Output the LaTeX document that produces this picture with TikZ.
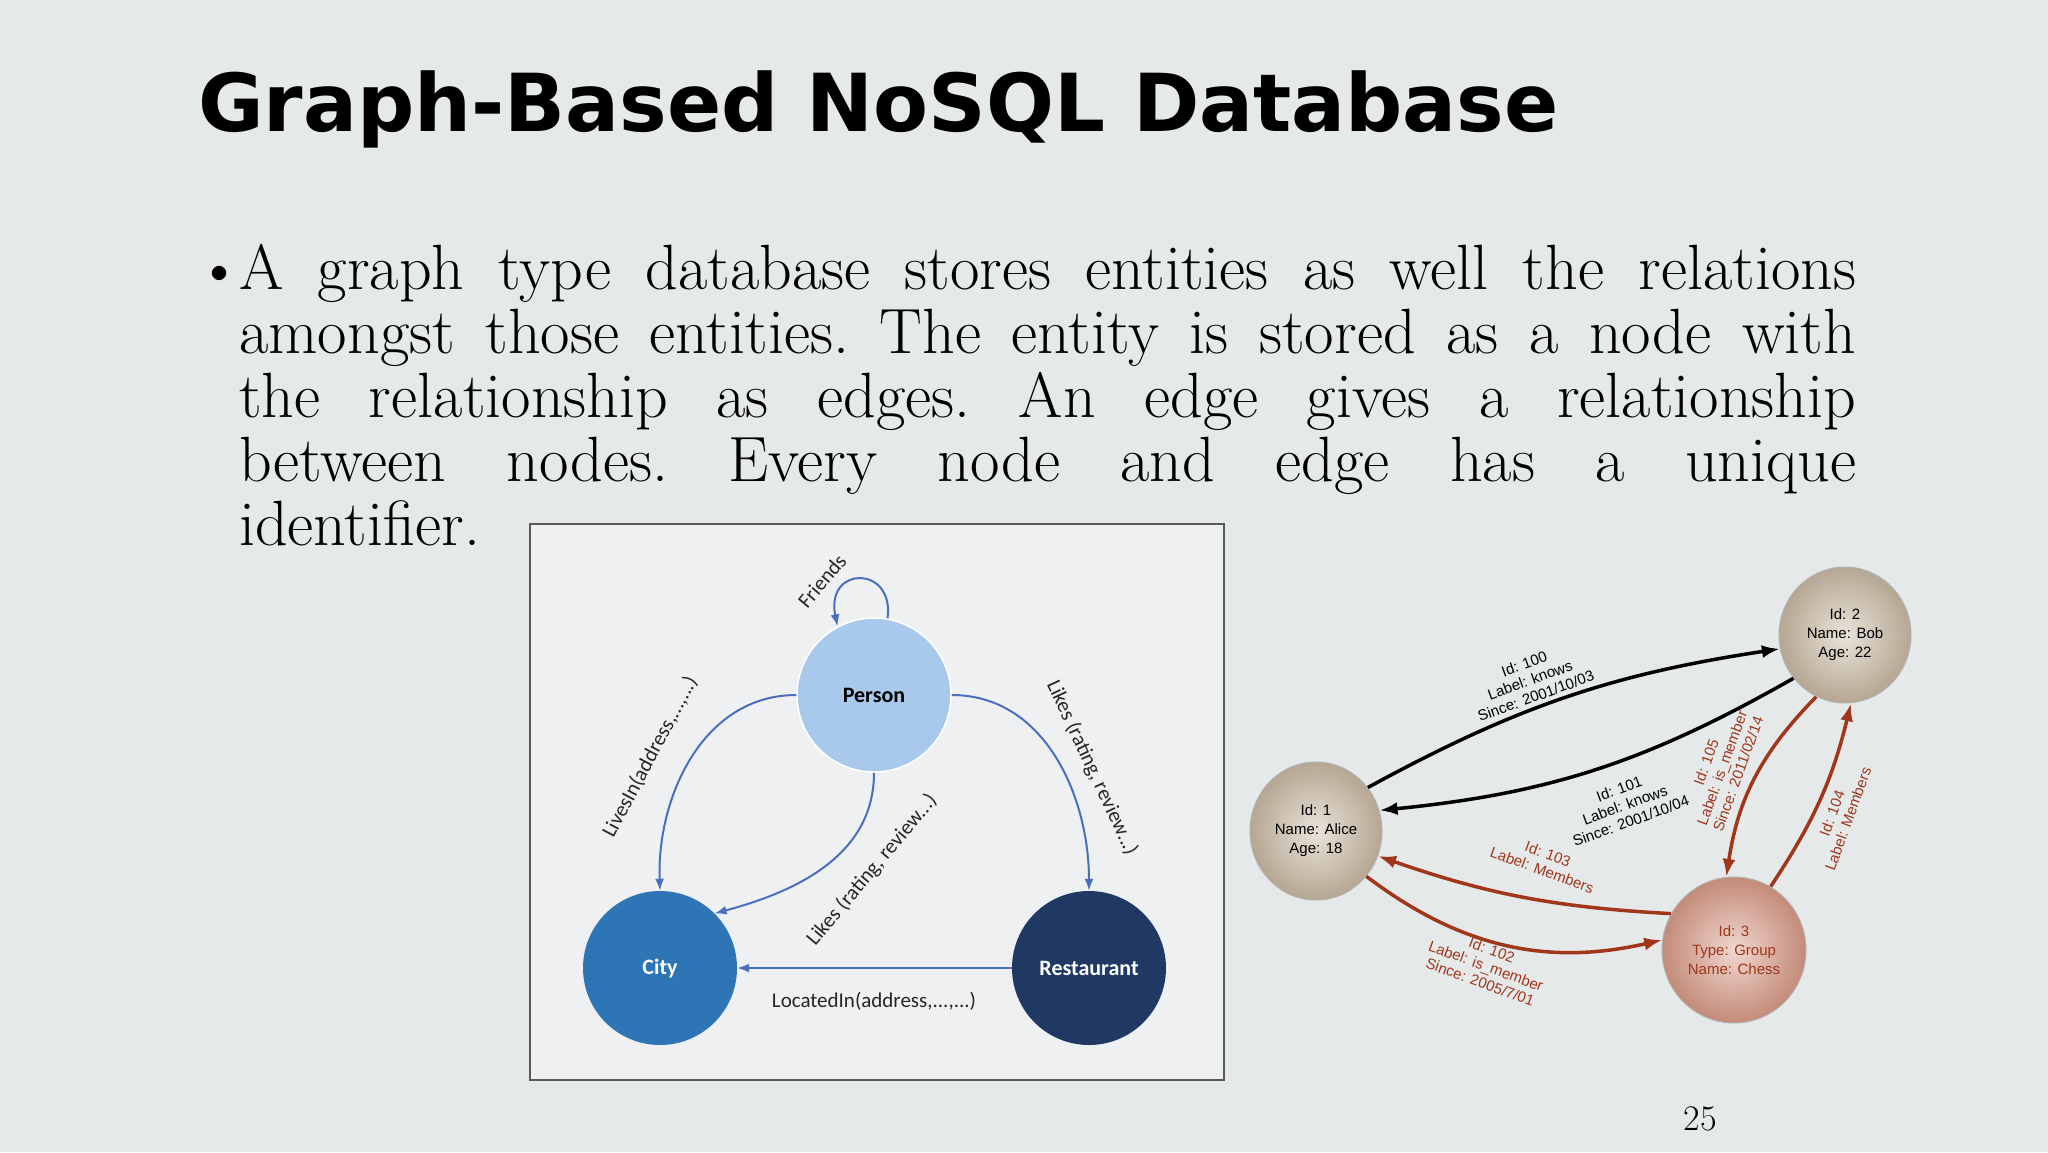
\documentclass[tikz,border=0pt]{standalone}
\usepackage{fontspec}
\newfontfamily\titlefont{DejaVu Sans}
\newfontfamily\arial{Liberation Sans}
\newfontfamily\calib{Carlito}
\usetikzlibrary{arrows.meta,shapes.geometric}
\definecolor{bg}{HTML}{E6E9E9}
\definecolor{boxbg}{HTML}{EEF0F1}
\definecolor{pblue}{HTML}{A9C9EC}
\definecolor{cblue}{HTML}{2E75B6}
\definecolor{rblue}{HTML}{1F3864}
\definecolor{ablue}{HTML}{4A6FC0}
\definecolor{tan}{HTML}{C9B9A2}
\definecolor{pink}{HTML}{D99A86}
\definecolor{dred}{HTML}{A0361A}
\tikzset{
 lnode/.style={circle,minimum size=154pt,inner sep=0pt,font=\calib\fontsize{22}{26}\selectfont\bfseries},
 rnode/.style={ellipse,draw=gray!60,line width=1pt,inner sep=0pt,align=center,font=\arial\fontsize{15}{19}\selectfont},
 larr/.style={draw=ablue,line width=2pt,-{Latex[length=12pt,width=9pt]}},
 llab/.style={font=\calib\fontsize{21}{24}\selectfont,text=black!85},
 barr/.style={line width=3.5pt,-{Latex[length=18pt,width=13pt]}},
 elab/.style={font=\arial\fontsize{15}{17}\selectfont,align=center},
}
\begin{document}
\begin{tikzpicture}[x=1pt,y=-1pt]
\fill[bg] (0,0) rectangle (2048,1152);
\useasboundingbox (0,0) rectangle (2048,1152);
\node[anchor=base west,inner sep=0pt,font=\titlefont\bfseries\fontsize{80}{90}\selectfont] (title) at (198,131) {Graph-Based NoSQL Database};
\node[anchor=base west,inner sep=0pt,font=\fontsize{64}{64}\selectfont] (bul) at (196,290) {\textbullet};
\node[anchor=north west,inner sep=0pt,text width=1617pt,align=justify,font=\fontsize{64}{64}\selectfont] (body) at (239,244) {\frenchspacing A graph type database stores entities as well the relations\linebreak amongst those entities. The entity is stored as a node with\linebreak the relationship as edges. An edge gives a relationship\linebreak between nodes. Every node and edge has a unique\linebreak identifier.};
% left box
\draw[fill=boxbg,draw=gray!70!black,line width=1.2pt] (530,524) rectangle (1224,1080);
\node[lnode,fill=pblue,draw=white,line width=1.5pt] (p) at (874,695) {Person};
\node[lnode,fill=cblue,text=white] (c) at (660,968) {City};
\node[lnode,fill=rblue,text=white] (r) at (1089,968) {Restaurant};
\draw[larr] (p.80) .. controls (895,565) and (825,565) .. (p.118);
\node[llab,rotate=50] (fr) at (822,581) {Friends};
\draw[larr] (p.west) to[out=180,in=92] (c.north);
\node[llab,rotate=62] (li) at (650,757) {LivesIn(address,...,...)};
\draw[larr] (p.south) to[out=-90,in=15] (c.45);
\node[llab,rotate=50] (lm) at (872,870) {Likes (rating, review...)};
\draw[larr] (p.east) to[out=0,in=90] (r.north);
\node[llab,rotate=-65] (lr) at (1092,768) {Likes (rating, review...)};
\draw[larr] (r.west) -- (c.east);
\node[llab] (lo) at (874,1001) {LocatedIn(address,...,...)};
% right graph
\node[rnode,shade,inner color=tan!40,outer color=tan!90!black,minimum width=132pt,minimum height=136pt] (bob) at (1845,635) {Id: 2\\Name: Bob\\Age: 22};
\node[rnode,shade,inner color=tan!40,outer color=tan!90!black,minimum width=132pt,minimum height=138pt] (alice) at (1316,831) {Id: 1\\Name: Alice\\Age: 18};
\node[rnode,shade,inner color=pink!40,outer color=pink!90!black,text=dred,minimum width=144pt,minimum height=146pt] (chess) at (1734,950) {Id: 3\\Type: Group\\Name: Chess};
\draw[barr,black] (alice.40) to[bend left=10] (bob.192);
\draw[barr,black] (bob.220) to[bend left=12] (alice.18);
\draw[barr,dred] (chess.150) to[bend left=8] (alice.-22);
\draw[barr,dred] (alice.-42) to[bend right=25] (chess.172);
\draw[barr,dred] (bob.-115) to[bend right=18] (chess.96);
\draw[barr,dred] (chess.60) to[bend right=10] (bob.-85);
\node[elab,rotate=20] (l100) at (1530,680) {Id: 100\\Label: knows\\Since: 2001/10/03};
\node[elab,rotate=20] (l101) at (1625,805) {Id: 101\\Label: knows\\Since: 2001/10/04};
\node[elab,rotate=-20,text=dred] (l103) at (1545,862) {Id: 103\\Label: Members};
\node[elab,rotate=-20,text=dred] (l102) at (1486,966) {Id: 102\\Label: is\_member\\Since: 2005/7/01};
\node[elab,rotate=70,text=dred] (l105) at (1722,768) {Id: 105\\Label: is\_member\\Since: 2011/02/14};
\node[elab,rotate=70,text=dred] (l104) at (1840,816) {Id: 104\\Label: Members};
\node[anchor=base,font=\fontsize{36}{40}\selectfont] (pg) at (1700,1130) {25};
\end{tikzpicture}
\end{document}
